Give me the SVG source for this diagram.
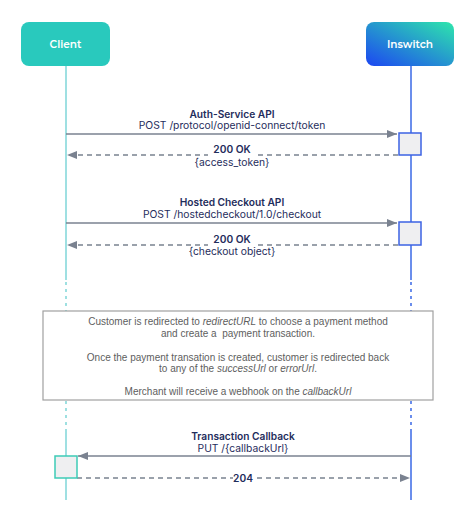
<svg xmlns="http://www.w3.org/2000/svg" width="474" height="523" viewBox="0 0 474 523">
<style>
.hdr{font-family:"Montserrat","Inter","Noto Sans",sans-serif;font-weight:600;font-size:10.5px;fill:#ffffff;text-anchor:middle}
.ttl{font-family:"Inter","Noto Sans",sans-serif;font-weight:600;font-size:10.2px;fill:#1f2d5c;text-anchor:middle}
.sub{font-family:"Inter","Noto Sans",sans-serif;font-size:10.3px;fill:#1f2d5c;text-anchor:middle}
.note{font-family:"Liberation Sans",Arial,sans-serif;font-size:10px;fill:#5e5e5e;text-anchor:middle;white-space:pre}
.msg{stroke:#7a8290;stroke-width:1.5;fill:none}
.ret{stroke:#7a8290;stroke-width:1.5;fill:none;stroke-dasharray:5 4}
.lc{stroke:#7fd6d8;stroke-width:1.5}
.li{stroke:#5b82ea;stroke-width:1.8}
.lcd{stroke:#7fd6d8;stroke-width:1.5;stroke-dasharray:3 4}
.lid{stroke:#5b82ea;stroke-width:1.8;stroke-dasharray:3 4}
.actI{fill:#efeff1;stroke:#3d63e3;stroke-width:1.5}
.actC{fill:#efeff1;stroke:#3ecbb6;stroke-width:1.5}
</style>
<defs>
<linearGradient id="gI" x1="0" y1="1" x2="1" y2="0">
<stop offset="0" stop-color="#1c46f2"/>
<stop offset="1" stop-color="#2ee6ac"/>
</linearGradient>
<marker id="ah" viewBox="0 0 10 8" refX="10" refY="4" markerWidth="10" markerHeight="8" markerUnits="userSpaceOnUse" orient="auto">
<path d="M0,0 L10,4 L0,8 Z" fill="#7a8290"/>
</marker>
</defs>
<rect width="474" height="523" fill="#ffffff"/>

<g id="lifelines">
<line class="lc" x1="66" y1="66" x2="66" y2="280"/>
<line class="lcd" x1="66" y1="282" x2="66" y2="430"/>
<line class="lc" x1="66" y1="430" x2="66" y2="500"/>
<line class="li" x1="411" y1="66" x2="411" y2="280"/>
<line class="lid" x1="411" y1="282" x2="411" y2="430"/>
<line class="li" x1="411" y1="430" x2="411" y2="500"/>
</g>

<g id="client">
<rect x="21" y="22" width="89" height="44" rx="8" fill="#29c9bd"/>
<text class="hdr" x="65.5" y="48">Client</text>
</g>
<g id="inswitch">
<rect x="366" y="22" width="88" height="44" rx="8" fill="url(#gI)"/>
<text class="hdr" x="410" y="48">Inswitch</text>
</g>

<g id="connectors">
<line class="msg" x1="66" y1="134" x2="397" y2="134" marker-end="url(#ah)"/>
<line class="ret" x1="398" y1="155" x2="67" y2="155" marker-end="url(#ah)"/>
<line class="msg" x1="66" y1="223" x2="397" y2="223" marker-end="url(#ah)"/>
<line class="ret" x1="398" y1="245" x2="67" y2="245" marker-end="url(#ah)"/>
<line class="msg" x1="411" y1="456" x2="78" y2="456" marker-end="url(#ah)"/>
<line class="ret" x1="77" y1="478" x2="410" y2="478" marker-end="url(#ah)"/>
</g>

<g id="act1"><rect class="actI" x="399" y="133" width="22" height="22"/></g>
<g id="act2"><rect class="actI" x="399" y="222" width="22" height="23"/></g>
<g id="act3"><rect class="actC" x="55" y="456" width="22" height="22"/></g>

<g id="labels">
<text class="ttl" x="232" y="118">Auth-Service API</text>
<text class="sub" x="232" y="129">POST /protocol/openid-connect/token</text>
<rect x="208" y="146" width="48" height="10" fill="#ffffff"/>
<text class="ttl" x="232" y="153">200 OK</text>
<text class="sub" x="232" y="166">{access_token}</text>
<text class="ttl" x="232" y="206">Hosted Checkout API</text>
<text class="sub" x="232" y="218">POST /hostedcheckout/1.0/checkout</text>
<rect x="208" y="236" width="48" height="10" fill="#ffffff"/>
<text class="ttl" x="232" y="243">200 OK</text>
<text class="sub" x="232" y="255">{checkout object}</text>
<text class="ttl" x="243" y="440">Transaction Callback</text>
<text class="sub" x="243" y="452">PUT /{callbackUrl}</text>
<rect x="233" y="472" width="20" height="12" fill="#ffffff"/>
<text class="ttl" x="243" y="482">204</text>
</g>

<g id="note">
<rect x="43" y="311" width="390" height="89" fill="#ffffff" stroke="#a0a0a0" stroke-width="1.2"/>
<text class="note" x="238" y="325">Customer is redirected to <tspan font-style="italic">redirectURL</tspan> to choose a payment method</text>
<text class="note" x="238" y="337" xml:space="preserve">and create a  payment transaction.</text>
<text class="note" x="238" y="361">Once the payment transation is created, customer is redirected back</text>
<text class="note" x="238" y="372">to any of the <tspan font-style="italic">successUrl</tspan> or <tspan font-style="italic">errorUrl</tspan>.</text>
<text class="note" x="238" y="395">Merchant will receive a webhook on the <tspan font-style="italic">callbackUrl</tspan></text>
</g>
</svg>
